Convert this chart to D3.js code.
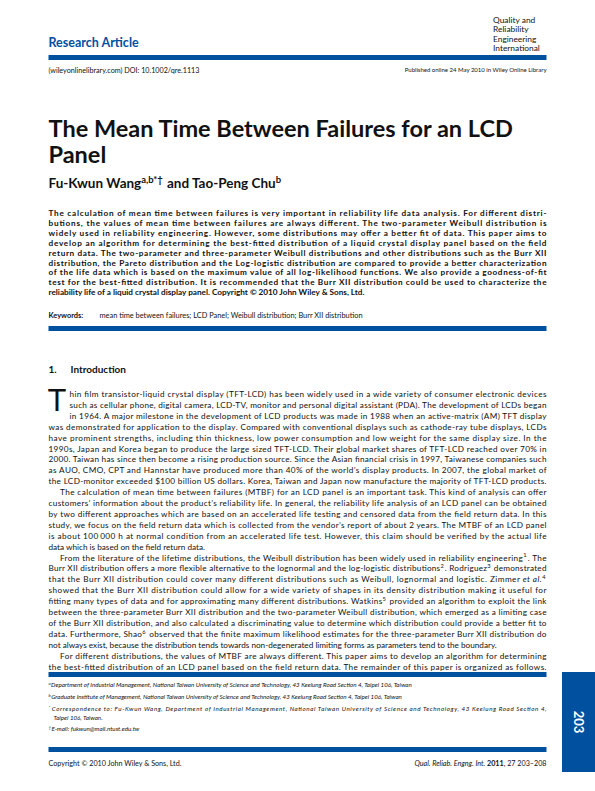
<!DOCTYPE html>
<html><head><meta charset="utf-8">
<script src="https://cdn.jsdelivr.net/npm/d3@7"></script>
<style>body{margin:0;background:#fff}svg{display:block}</style>
</head><body>
<script>
const journalName = ["Quality and","Reliability","Engineering","International"];
const titleLines = ["The Mean Time Between Failures for an LCD","Panel"];
const abstractLines = [
"The calculation of mean time between failures is very important in reliability life data analysis. For different distri-",
"butions, the values of mean time between failures are always different. The two-parameter Weibull distribution is",
"widely used in reliability engineering. However, some distributions may offer a better fit of data. This paper aims to",
"develop an algorithm for determining the best-fitted distribution of a liquid crystal display panel based on the field",
"return data. The two-parameter and three-parameter Weibull distributions and other distributions such as the Burr XII",
"distribution, the Pareto distribution and the Log-logistic distribution are compared to provide a better characterization",
"of the life data which is based on the maximum value of all log-likelihood functions. We also provide a goodness-of-fit",
"test for the best-fitted distribution. It is recommended that the Burr XII distribution could be used to characterize the",
"reliability life of a liquid crystal display panel. Copyright \u00a9 2010 John Wiley & Sons, Ltd."];
// [text, indent(0 none,1 para,2 dropcap), justified]
const introLines = [
["hin film transistor-liquid crystal display (TFT-LCD) has been widely used in a wide variety of consumer electronic devices",2,1],
["such as cellular phone, digital camera, LCD-TV, monitor and personal digital assistant (PDA). The development of LCDs began",2,1],
["in 1964. A major milestone in the development of LCD products was made in 1988 when an active-matrix (AM) TFT display",2,1],
["was demonstrated for application to the display. Compared with conventional displays such as cathode-ray tube displays, LCDs",0,1],
["have prominent strengths, including thin thickness, low power consumption and low weight for the same display size. In the",0,1],
["1990s, Japan and Korea began to produce the large sized TFT-LCD. Their global market shares of TFT-LCD reached over 70% in",0,1],
["2000. Taiwan has since then become a rising production source. Since the Asian financial crisis in 1997, Taiwanese companies such",0,1],
["as AUO, CMO, CPT and Hannstar have produced more than 40% of the world\u2019s display products. In 2007, the global market of",0,1],
["the LCD-monitor exceeded $100 billion US dollars. Korea, Taiwan and Japan now manufacture the majority of TFT-LCD products.",0,1],
["The calculation of mean time between failures (MTBF) for an LCD panel is an important task. This kind of analysis can offer",1,1],
["customers\u2019 information about the product\u2019s reliability life. In general, the reliability life analysis of an LCD panel can be obtained",0,1],
["by two different approaches which are based on an accelerated life testing and censored data from the field return data. In this",0,1],
["study, we focus on the field return data which is collected from the vendor\u2019s report of about 2 years. The MTBF of an LCD panel",0,1],
["is about 100\u2009000 h at normal condition from an accelerated life test. However, this claim should be verified by the actual life",0,1],
["data which is based on the field return data.",0,0],
["From the literature of the lifetime distributions, the Weibull distribution has been widely used in reliability engineering^1^. The",1,1],
["Burr XII distribution offers a more flexible alternative to the lognormal and the log-logistic distributions^2^. Rodriguez^3^ demonstrated",0,1],
["that the Burr XII distribution could cover many different distributions such as Weibull, lognormal and logistic. Zimmer _et al._^4^",0,1],
["showed that the Burr XII distribution could allow for a wide variety of shapes in its density distribution making it useful for",0,1],
["fitting many types of data and for approximating many different distributions. Watkins^5^ provided an algorithm to exploit the link",0,1],
["between the three-parameter Burr XII distribution and the two-parameter Weibull distribution, which emerged as a limiting case",0,1],
["of the Burr XII distribution, and also calculated a discriminating value to determine which distribution could provide a better fit to",0,1],
["data. Furthermore, Shao^6^ observed that the finite maximum likelihood estimates for the three-parameter Burr XII distribution do",0,1],
["not always exist, because the distribution tends towards non-degenerated limiting forms as parameters tend to the boundary.",0,0],
["For different distributions, the values of MTBF are always different. This paper aims to develop an algorithm for determining",1,1],
["the best-fitted distribution of an LCD panel based on the field return data. The remainder of this paper is organized as follows.",0,1]];
const footnotes = [
["^a^Department of Industrial Management, National Taiwan University of Science and Technology, 43 Keelung Road Section 4, Taipei 106, Taiwan",0],
["^b^Graduate Institute of Management, National Taiwan University of Science and Technology, 43 Keelung Road Section 4, Taipei 106, Taiwan",0],
["^*^Correspondence to: Fu-Kwun Wang, Department of Industrial Management, National Taiwan University of Science and Technology, 43 Keelung Road Section 4,",1],
["Taipei 106, Taiwan.",0],
["^\u2020^E-mail: fukwun@mail.ntust.edu.tw",0]];

const W=595,H=791,L=48.5,R=546.5,BLUE="#0050a0";
const F="Lato, 'Open Sans', sans-serif";
const svg=d3.select("body").append("svg").attr("width",W).attr("height",H).style("font-family",F);

function rich(sel,str,size){
  str.split(/(\^[^^]+\^|_[^_]+_)/).filter(s=>s).forEach(s=>{
    if(s[0]==="^"){sel.append("tspan").attr("dy",-size*0.38).attr("font-size",size*0.7).text(s.slice(1,-1));
      sel.append("tspan").attr("dy",size*0.38).text("\u200a");}
    else if(s[0]==="_") sel.append("tspan").attr("font-style","italic").text(s.slice(1,-1));
    else sel.append("tspan").text(s);
  });
}
function line(x,y,str,size,opt={}){
  const t=svg.append("text").attr("x",x).attr("y",y).attr("font-size",size).attr("fill",opt.fill||"#111")
    .attr("font-weight",opt.bold?"bold":null).attr("font-style",opt.italic?"italic":null);
  rich(t,str,size);
  if(opt.justify){t.attr("textLength",R-x).attr("lengthAdjust","spacing");}
  return t;
}
// header
line(L,47,"Research Article",12.5,{bold:1,fill:BLUE});
journalName.forEach((s,i)=>line(493,23+i*9.3,s,8.4,{}));
svg.append("rect").attr("x",L).attr("y",55).attr("width",R-L).attr("height",5).attr("fill",BLUE);
line(L,73,"(wileyonlinelibrary.com) DOI: 10.1002/qre.1113",7.2,{});
line(R,72,"Published online 24 May 2010 in Wiley Online Library",6,{}).attr("text-anchor","end");
// title
titleLines.forEach((s,i)=>line(L,137+i*26,s,23.5,{bold:1}));
line(L,188,"Fu-Kwun Wang^a,b*\u2020^ and Tao-Peng Chu^b^",13.5,{bold:1});
// abstract
const ay=d3.scaleLinear().domain([0,1]).range([216,225.9]);
abstractLines.forEach((s,i)=>line(L,ay(i),s,8.2,{bold:1,justify:i<abstractLines.length-1}));
line(L,318,"Keywords:",7.4,{bold:1});
line(L+51,318,"mean time between failures; LCD Panel; Weibull distribution; Burr XII distribution",7.4,{});
svg.append("rect").attr("x",L).attr("y",326).attr("width",R-L).attr("height",5).attr("fill",BLUE);
// intro
line(L,373,"1.",10,{bold:1});
line(L+22,373,"Introduction",10,{bold:1});
svg.append("text").attr("x",L-1).attr("y",411).attr("font-size",31).attr("fill","#111").attr("font-family","'Liberation Sans', sans-serif").text("T");
const iy=d3.scaleLinear().domain([0,1]).range([397,407.9]);
introLines.forEach((d,i)=>{
  const x=d[1]===2?69.5:d[1]===1?60:L;
  line(x,iy(i),d[0],8.2,{justify:d[2]});
});
// footnotes
svg.append("rect").attr("x",L).attr("y",672).attr("width",R-L).attr("height",5).attr("fill",BLUE);
const fy=[687,699,711,720,731];
footnotes.forEach((d,i)=>line(i===3?L+5:L,fy[i],d[0],6.2,{italic:1,justify:d[1]}));
svg.append("rect").attr("x",L).attr("y",747).attr("width",R-L).attr("height",5).attr("fill",BLUE);
line(L,766,"Copyright \u00a9 2010 John Wiley & Sons, Ltd.",7.2,{});
const c=svg.append("text").attr("x",R).attr("y",766).attr("font-size",7.2).attr("text-anchor","end").attr("fill","#111");
c.append("tspan").attr("font-style","italic").text("Qual. Reliab. Engng. Int. ");
c.append("tspan").attr("font-weight","bold").text("2011");
c.append("tspan").text(", 27 203\u2013208");
// page tab
svg.append("rect").attr("x",562).attr("y",672).attr("width",33).attr("height",100).attr("fill",BLUE);
svg.append("text").attr("transform","translate(574,722) rotate(90)").attr("text-anchor","middle")
  .attr("font-size",13).attr("font-weight","bold").attr("fill","#fff").text("203");
</script>
</body></html>
